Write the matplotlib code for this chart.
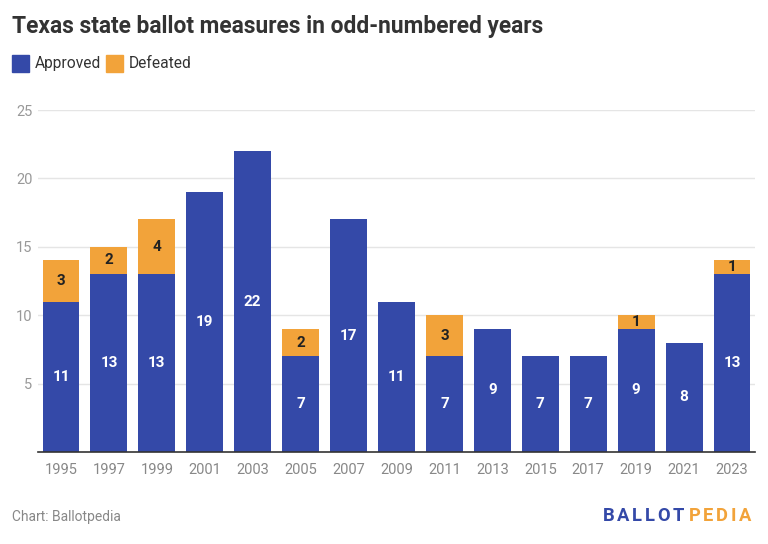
import matplotlib
matplotlib.use("Agg")
import matplotlib.pyplot as plt
import numpy as np
from matplotlib.patches import Rectangle

years = ["1995", "1997", "1999", "2001", "2003", "2005", "2007", "2009",
         "2011", "2013", "2015", "2017", "2019", "2021", "2023"]
approved = [11, 13, 13, 19, 22, 7, 17, 11, 7, 9, 7, 7, 9, 8, 13]
defeated = [3, 2, 4, 0, 0, 2, 0, 0, 3, 0, 0, 0, 1, 0, 1]
y_ticks = [5, 10, 15, 20, 25]

BLUE = "#3449A8"
ORANGE = "#F2A33A"
FONT = ["Roboto", "DejaVu Sans"]
plt.rcParams["font.family"] = FONT

W, H = 768, 544
fig = plt.figure(figsize=(7.68, 5.44), dpi=100)
ax = fig.add_axes([38 / W, 1 - 452 / H, (755 - 38) / W, (452 - 110) / H])

x = np.arange(len(years))
w = 0.77
ax.bar(x, approved, width=w, color=BLUE, zorder=3)
ax.bar(x, defeated, width=w, bottom=approved, color=ORANGE, zorder=3)

for xi, a, d in zip(x, approved, defeated):
    ax.text(xi, a / 2, str(a), ha="center", va="center", color="white",
            fontsize=11, fontweight="bold", zorder=4)
    if d > 0:
        ax.text(xi, a + d / 2, str(d), ha="center", va="center", color="#222222",
                fontsize=11, fontweight="bold", zorder=4)

ax.set_xlim(-0.48, len(years) - 0.52)
ax.set_ylim(0, 25)
ax.set_yticks(y_ticks)
ax.set_yticklabels([str(t) for t in y_ticks])
ax.set_xticks(x)
ax.set_xticklabels(years)
ax.tick_params(axis="both", length=0, colors="#999999", labelsize=10.5)
ax.tick_params(axis="x", pad=8, colors="#888888")
ax.tick_params(axis="y", pad=4)
ax.yaxis.grid(True, color="#e5e5e5", linewidth=1, zorder=0)
for s in ["top", "right", "left"]:
    ax.spines[s].set_visible(False)
ax.spines["bottom"].set_color("#333333")
ax.spines["bottom"].set_linewidth(1.2)
ax.spines["bottom"].set_zorder(5)

# Title
fig.text(12 / W, 1 - 26 / H, "Texas state ballot measures in odd-numbered years",
         fontsize=16.4, fontweight="bold", color="#333333", va="center", ha="left")

# Legend
fig.patches.append(Rectangle((12 / W, 1 - 72 / H), 17 / W, 17 / H,
                             transform=fig.transFigure, color=BLUE))
fig.text(35 / W, 1 - 63.5 / H, "Approved", fontsize=11.2, color="#333333",
         va="center", ha="left")
fig.patches.append(Rectangle((106 / W, 1 - 72 / H), 17 / W, 17 / H,
                             transform=fig.transFigure, color=ORANGE))
fig.text(129 / W, 1 - 63.5 / H, "Defeated", fontsize=11.2, color="#333333",
         va="center", ha="left")

# Footer
fig.text(12 / W, 1 - 517 / H, "Chart: Ballotpedia", fontsize=10, color="#888888",
         va="center", ha="left")

# Logo: letter-spaced wordmark
fig.canvas.draw()
renderer = fig.canvas.get_renderer()
logo = [("B", BLUE), ("A", BLUE), ("L", BLUE), ("L", BLUE), ("O", BLUE), ("T", BLUE),
        ("P", ORANGE), ("E", ORANGE), ("D", ORANGE), ("I", ORANGE), ("A", ORANGE)]
tracking = 2.6
gap_extra = 2.0
xpos = 603.0
for i, (ch, col) in enumerate(logo):
    t = fig.text(xpos / W, 1 - 516 / H, ch, fontsize=13.2, fontweight="bold",
                 color=col, va="center", ha="left")
    bb = t.get_window_extent(renderer=renderer)
    xpos += bb.width + tracking
    if i == 5:
        xpos += gap_extra

fig.savefig("out.png", dpi=100, facecolor="white")
